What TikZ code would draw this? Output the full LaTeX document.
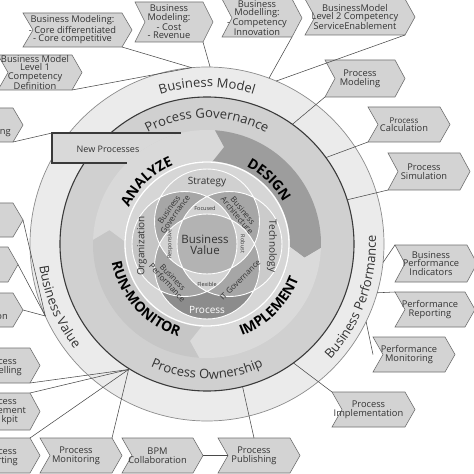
\documentclass[tikz,border=0pt]{standalone}
\usepackage{fontspec}
\setmainfont{Open Sans}
\usetikzlibrary{calc,decorations.text}
\definecolor{ringout}{HTML}{EBEBEB}
\definecolor{ringline}{HTML}{8C8C8C}
\definecolor{ringproc}{HTML}{D0D0D0}
\definecolor{darkline}{HTML}{3A3A3A}
\definecolor{anacol}{HTML}{D9D9D9}
\definecolor{descol}{HTML}{9D9D9D}
\definecolor{impcol}{HTML}{DADADA}
\definecolor{runcol}{HTML}{C6C6C6}
\definecolor{vback}{HTML}{D6D6D6}
\definecolor{vS}{HTML}{D0D0D0}
\definecolor{vT}{HTML}{CBCBCB}
\definecolor{vO}{HTML}{C5C5C5}
\definecolor{vP}{HTML}{8C8C8C}
\definecolor{vpair}{HTML}{A6A6A6}
\definecolor{vtriple}{HTML}{D3D3D3}
\definecolor{vquad}{HTML}{B3B3B3}
\definecolor{boxfill}{HTML}{D3D3D3}
\definecolor{boxline}{HTML}{707070}
\definecolor{txt}{HTML}{333333}
\definecolor{conn}{HTML}{4A4A4A}
\newcommand\seg[3]{\fill[#3] (#1:114pt) arc[start angle=#1, end angle=#2, radius=114pt] -- ({#2-6}:98.5pt) -- (#2:83pt) arc[start angle=#2, end angle=#1, radius=83pt] -- ({#1-6}:98.5pt) -- cycle;}
\newcommand\arctext[6]{\path[decorate, decoration={text along path, text align=center, text color=#5, text={|#4|#6}}] (#1:#3pt) arc[start angle=#1, end angle=#2, radius=#3pt];}
\newcommand\chev[6]{%
 \filldraw[boxshape] ({#2-#4/2},{#3+#5/2}) -- ({#2+#4/2},{#3+#5/2}) -- ({#2+#4/2+10},{#3}) -- ({#2+#4/2},{#3-#5/2}) -- ({#2-#4/2},{#3-#5/2}) -- ({#2-#4/2+10},{#3}) -- cycle;
 \node[boxtext, minimum width=#4pt, minimum height=#5pt] (#1) at (#2,#3) {#6};
 \coordinate (#1-tip) at ({#2+#4/2+10},{#3});
 \coordinate (#1-notch) at ({#2-#4/2+10},{#3});}
\begin{document}
\begin{tikzpicture}[x=1pt,y=1pt,
  boxshape/.style={fill=boxfill, draw=boxline, line width=0.6pt},
  boxtext/.style={inner sep=0pt, outer sep=0pt, align=center, text=txt, font=\fontsize{9.3}{8.6}\selectfont},
  frag/.style={inner sep=0pt, text=txt, font=\fontsize{9.3}{8.6}\selectfont, anchor=base east},
  conline/.style={draw=conn, line width=0.55pt},
  vlabel/.style={inner sep=0pt, text=txt, align=center},
  lens/.style={vlabel, font=\fontsize{8}{7.6}\selectfont},
  tiny/.style={vlabel, font=\fontsize{5.5}{5.5}\selectfont},
  big/.style={vlabel, font=\fontsize{10}{10}\selectfont}]
\useasboundingbox (-207,-230) rectangle (267,244);
\fill[white] (-207,-230) rectangle (267,244);
\begin{scope}
\clip (-207,-230) rectangle (267,244);
% rings
\filldraw[fill=ringout, draw=ringline, line width=0.7pt] (0,0) circle[radius=177pt];
\filldraw[fill=ringproc, draw=darkline, line width=1.1pt] (0,0) circle[radius=147pt];
\seg{178}{86}{anacol}
\seg{86}{-2}{descol}
\seg{-2}{-94}{impcol}
\seg{266}{178}{runcol}
% new processes
\fill[anacol] (-155,111) -- (-26,111) arc[start angle=103.2, end angle=134.7, radius=114pt] -- (-155,81) -- cycle;
\draw[darkline, line width=1.1pt] (-26,111) -- (-155,111) -- (-155,81) -- (-80.2,81);
\node[inner sep=0pt, text=txt, font=\fontsize{9}{9}\selectfont] (np) at (-99,95) {New Processes};
\coordinate (npc) at (-155,111);
% venn
\filldraw[fill=vback, draw=white, line width=1.3pt] (0,0) circle[radius=82pt];
\fill[vS] (0,22.5) circle[radius=52.5pt];
\fill[vT] (22.5,0) circle[radius=52.5pt];
\fill[vO] (-22.5,0) circle[radius=52.5pt];
\fill[vP] (0,-22.5) circle[radius=52.5pt];
\begin{scope}\clip (0,22.5) circle[radius=52.5pt];
 \fill[vpair] (-22.5,0) circle[radius=52.5pt]; \fill[vpair] (22.5,0) circle[radius=52.5pt];\end{scope}
\begin{scope}\clip (0,-22.5) circle[radius=52.5pt];
 \fill[vpair] (-22.5,0) circle[radius=52.5pt]; \fill[vpair] (22.5,0) circle[radius=52.5pt];\end{scope}
\begin{scope}\clip (0,22.5) circle[radius=52.5pt]; \clip (-22.5,0) circle[radius=52.5pt];
 \fill[vtriple] (22.5,0) circle[radius=52.5pt]; \fill[vtriple] (0,-22.5) circle[radius=52.5pt];\end{scope}
\begin{scope}\clip (22.5,0) circle[radius=52.5pt]; \clip (0,-22.5) circle[radius=52.5pt];
 \fill[vtriple] (0,22.5) circle[radius=52.5pt]; \fill[vtriple] (-22.5,0) circle[radius=52.5pt];\end{scope}
\begin{scope}\clip (0,22.5) circle[radius=52.5pt]; \clip (-22.5,0) circle[radius=52.5pt]; \clip (22.5,0) circle[radius=52.5pt];
 \fill[vquad] (0,-22.5) circle[radius=52.5pt];\end{scope}
\draw[white, line width=0.9pt] (0,22.5) circle[radius=52.5pt] (22.5,0) circle[radius=52.5pt] (-22.5,0) circle[radius=52.5pt] (0,-22.5) circle[radius=52.5pt];
% venn labels
\node[big] (strat) at (0,62) {Strategy};
\node[big, rotate=-90] (tech) at (65,-2) {Technology};
\node[big, rotate=90] (org) at (-65,-2) {Organization};
\node[big, text=white] (procv) at (0,-66) {Process};
\node[vlabel, font=\fontsize{11.5}{11}\selectfont] (bv) at (-2,-1) {Business\\Value};
\node[lens, rotate=55] (bg) at (-35,32) {Business\\Governance};
\node[lens, rotate=-50] (ba) at (33,31) {Business\\Architecture};
\node[lens, rotate=45] (itg) at (33,-36) {IT Governance};
\node[lens, rotate=-47] (bperf) at (-37,-36) {Business\\Performance};
\node[tiny] (foc) at (-2,36) {Focused};
\node[tiny] (flex) at (0,-40) {Flexible};
\node[tiny, rotate=-90] (rob) at (36,0) {Robust};
\node[tiny, rotate=90] (resp) at (-37,0) {Responsive};
% ring texts
\arctext{130}{50}{157}{\fontsize{13}{13}\selectfont}{txt}{Business Model}
\arctext{140}{40}{126}{\fontsize{13}{13}\selectfont}{txt}{Process Governance}
\arctext{230}{310}{135}{\fontsize{13}{13}\selectfont}{txt}{Process Ownership}
\arctext{-62}{22}{169}{\fontsize{13}{13}\selectfont}{txt}{Business Performance}
\arctext{163}{243}{169}{\fontsize{13}{13}\selectfont}{txt}{Business Value}
\arctext{174}{94}{86}{\bfseries\fontsize{14}{14}\selectfont}{black}{ANALYZE}
\arctext{86}{6}{87}{\bfseries\fontsize{14}{14}\selectfont}{black}{DESIGN}
\arctext{-85}{-5}{98}{\bfseries\fontsize{14}{14}\selectfont}{black}{IMPLEMENT}
\arctext{182}{262}{97}{\bfseries\fontsize{14}{14}\selectfont}{black}{RUN-MONITOR}
% boxes
\chev{A}{-134.5}{214}{99}{34}{Business Modeling:\\- Core differentiated\\- Core competitive}
\chev{B}{-38}{222}{68}{40}{Business\\Modeling:\\- Cost\\- Revenue}
\chev{C}{50}{226}{70}{38}{Business\\Modelling:\\- Competency\\Innovation}
\chev{D}{148}{227}{100}{36}{BusinessModel\\Level 2 Competency\\ServiceEnablement}
\chev{E}{-172}{171.5}{74}{35}{Business Model\\Level 1\\Competency\\Definition}
\chev{F}{153}{165.5}{70}{37}{Process\\Modeling}
\chev{H}{197}{119.5}{72}{35}{\fontsize{8}{8}\selectfont Process\\Calculation}
\chev{I}{217}{72.5}{72}{37}{Process\\Simulation}
\chev{J}{224}{-19.5}{72}{37}{Business\\Performance\\Indicators}
\chev{K}{223}{-65.5}{70}{35}{Performance\\Reporting}
\chev{L}{202}{-110.5}{72}{35}{Performance\\Monitoring}
\chev{M}{161.5}{-165.5}{73}{35}{Process\\Implementation}
\chev{N}{47}{-211.5}{72}{35}{Process\\Publishing}
\chev{O}{-49.5}{-211.5}{71}{35}{BPM\\Collaboration}
\chev{P}{-131}{-211.5}{72}{35}{Process\\Monitoring}
\chev{G}{-230}{119}{72}{34}{}
\chev{V}{-230}{24}{72}{34}{}
\chev{U}{-235}{-20.5}{72}{35}{}
\chev{T}{-230}{-66}{72}{34}{}
\chev{S}{-213}{-121.5}{72}{35}{}
\chev{R}{-213}{-167.5}{72}{37}{}
\chev{Q}{-213}{-211.5}{72}{35}{}
\node[frag] (Gf) at (-196,109.5) {ng};
\node[frag] (Tf) at (-199,-75.5) {on};
\node[frag] (Sf1) at (-190,-120.5) {cess};
\node[frag] (Sf2) at (-185,-129.5) {elling};
\node[frag] (Rf1) at (-190,-160.5) {cess};
\node[frag] (Rf2) at (-181,-169.5) {ement};
\node[frag] (Rf3) at (-189,-178) {kpit};
\node[frag] (Qf1) at (-190,-210.5) {cess};
\node[frag] (Qf2) at (-189,-219.5) {rting};
% connectors
\coordinate (cA) at (95:177pt);
\coordinate (cB) at (89:177pt);
\coordinate (cC) at (69.5:177pt);
\coordinate (cD) at (67:177pt);
\coordinate (cF) at (54.5:147pt);
\coordinate (cH) at (36:147pt);
\coordinate (cI) at (17.5:147pt);
\coordinate (cJ) at (-6:177pt);
\coordinate (cK) at (-16:177pt);
\coordinate (cL) at (-26:177pt);
\coordinate (cM) at (-54:147pt);
\coordinate (cN) at (-76:147pt);
\coordinate (cP) at (238:148pt);
\coordinate (cT) at (204:177pt);
\draw[conline] (A.south east) -- (cA);
\draw[conline] (E.south east) -- (cA);
\draw[conline] (B.south east) -- (cB);
\draw[conline] (C.south east) -- (cC);
\draw[conline] (D.south east) -- (cD);
\draw[conline] (F.south west) -- (cF);
\draw[conline] (H.south west) -- (cH);
\draw[conline] (I.south west) -- (cI);
\draw[conline] (J.north west) -- (cJ);
\draw[conline] (K.north west) -- (cK);
\draw[conline] (L.west) -- (cL);
\draw[conline] (M.north west) -- (cM);
\draw[conline] (N.north) -- (cN);
\draw[conline] (O-tip) -- (N-notch);
\draw[conline] (P.north east) -- (cP);
\draw[conline] (Q.north east) -- (cP);
\draw[conline] (R.north east) -- (cP);
\draw[conline] (S.south east) -- (cP);
\draw[conline] (T-tip) -- (cT);
\draw[conline] (U-tip) -- (cT);
\draw[conline] (V-tip) -- (cT);
\draw[conline] (G.south east) -- (npc);
\end{scope}
\end{tikzpicture}
\end{document}
